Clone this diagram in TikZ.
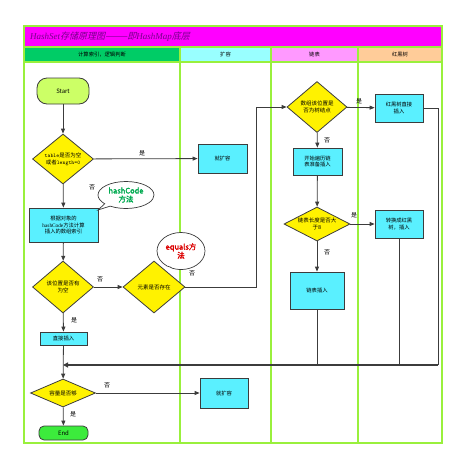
\documentclass[tikz,border=0pt]{standalone}
\usepackage{fontspec}
\setmainfont{Noto Sans CJK SC}
\newfontfamily\lserif{Liberation Serif}
\newfontfamily\titlecjk[FakeSlant=0.25]{Noto Sans CJK SC}
\newfontfamily\cjkbold[FakeBold=2.5]{Noto Sans CJK SC}
\usetikzlibrary{shapes.geometric,shapes.callouts,arrows.meta}
\definecolor{laneGreen}{RGB}{153,240,60}
\definecolor{titleMag}{RGB}{255,0,255}
\definecolor{titleTxt}{RGB}{120,0,140}
\definecolor{hdA}{RGB}{0,204,102}
\definecolor{hdB}{RGB}{153,255,255}
\definecolor{hdC}{RGB}{255,153,255}
\definecolor{hdD}{RGB}{255,204,153}
\definecolor{boxCyan}{RGB}{90,240,255}
\definecolor{edgeGray}{RGB}{60,60,60}
\definecolor{startFill}{RGB}{204,255,102}
\definecolor{endFill}{RGB}{60,235,60}
\definecolor{hcGreen}{RGB}{0,170,80}
\definecolor{eqRed}{RGB}{220,0,0}
\tikzset{
  lane/.style={draw=laneGreen, line width=1.2pt},
  dia/.style={diamond, draw=edgeGray, fill=yellow, line width=0.8pt, inner sep=0pt, align=center, font=\fontsize{5.5}{6.8}\selectfont},
  stepbox/.style={rectangle, draw=edgeGray, fill=boxCyan, line width=0.8pt, inner sep=0pt, align=center, font=\fontsize{5.3}{6.8}\selectfont},
  term/.style={rectangle, rounded corners=7pt, draw=edgeGray, line width=0.8pt, inner sep=0pt, align=center, font=\fontsize{6}{7}\selectfont},
  conn/.style={draw=edgeGray, line width=0.8pt, -{Triangle[length=5pt,width=4pt]}},
  plain/.style={draw=edgeGray, line width=0.8pt},
  lab/.style={font=\fontsize{6}{7}\selectfont, inner sep=0pt},
  hdr/.style={font=\fontsize{5.3}{6}\selectfont, inner sep=0pt},
  bubble/.style={ellipse callout, draw=edgeGray, fill=white, line width=0.7pt, inner sep=0pt, align=center, font=\cjkbold\fontsize{7.5}{8.5}\selectfont}
}
\begin{document}
\begin{tikzpicture}[x=1pt,y=-1pt]
\useasboundingbox (0,0) rectangle (474,466);
% title and header bands
\fill[titleMag] (24,26) rectangle (442,47);
\node[anchor=west, inner sep=0pt, text=titleTxt, font=\fontsize{9}{10}\selectfont] (title) at (30,37) {{\lserif\itshape HashSet}\titlecjk 存储原理图———即{\lserif\itshape HashMap}底层};
\fill[hdA] (24,47) rectangle (180,62);
\fill[hdB] (180,47) rectangle (271,62);
\fill[hdC] (271,47) rectangle (358,62);
\fill[hdD] (358,47) rectangle (442,62);
\node[hdr] (h1) at (102,54.5) {计算索引，逻辑判断};
\node[hdr] (h2) at (225.5,54.5) {扩容};
\node[hdr] (h3) at (314.5,54.5) {链表};
\node[hdr] (h4) at (400,54.5) {红黑树};
% lanes
\draw[lane] (24,26) rectangle (442,443);
\draw[lane] (24,47) -- (442,47);
\draw[lane] (24,62) -- (442,62);
\draw[lane] (180,47) -- (180,443);
\draw[lane] (271,47) -- (271,443);
\draw[lane] (358,47) -- (358,443);
% nodes
\node[term, fill=startFill, minimum width=52pt, minimum height=26pt, rounded corners=10pt] (start) at (63,91) {Start};
\node[dia, aspect=1.2, minimum width=61pt, minimum height=50pt] (d1) at (63,159) {{\ttfamily table}是否为空\\或者{\ttfamily length=0}};
\node[stepbox, minimum width=49pt, minimum height=29pt] (b1) at (222.5,158.5) {就扩容};
\node[stepbox, minimum width=69pt, minimum height=34pt] (b2) at (63.5,225) {根据对象的\\{\lserif hashCode}方法计算\\插入的数组索引};
\node[dia, aspect=1.2, minimum width=61pt, minimum height=52pt] (d2) at (63,287) {该位置是否有\\为空};
\node[dia, aspect=1.2, minimum width=62pt, minimum height=52pt] (d3) at (154,287) {元素是否存在};
\node[dia, aspect=1.2, minimum width=60pt, minimum height=51pt] (d4) at (317,107) {数组该位置是\\否为树结点};
\node[stepbox, minimum width=48pt, minimum height=28pt] (b4) at (399,108) {红黑树直接\\插入};
\node[stepbox, minimum width=49pt, minimum height=27pt] (b5) at (317.5,161.5) {开始遍历链\\表准备插入};
\node[dia, aspect=2, minimum width=66pt, minimum height=34pt] (d5) at (317,224) {链表长度是否大\\于8};
\node[stepbox, minimum width=48pt, minimum height=28pt] (b6) at (399,224) {转换成红黑\\树，插入};
\node[stepbox, minimum width=54pt, minimum height=37pt] (b7) at (317,290.5) {链表插入};
\node[stepbox, minimum width=47pt, minimum height=13pt] (b3) at (63.5,338.5) {直接插入};
\node[dia, aspect=2.3, minimum width=65pt, minimum height=28pt] (d6) at (63,393) {容量是否够};
\node[stepbox, minimum width=48pt, minimum height=30pt] (b8) at (224,393) {就扩容};
\node[term, fill=endFill, minimum width=49pt, minimum height=14pt, rounded corners=5pt] (end) at (63.5,433) {End};
% callouts
\node[bubble, text=hcGreen, minimum width=56pt, minimum height=27pt, callout absolute pointer={(98,210)}] (hc) at (126,195) {hashCode\\方法};
\node[bubble, text=eqRed, minimum width=48pt, minimum height=37pt, callout absolute pointer={(170,267)}] (eq) at (181,251) {equals方\\法};
% helper coordinates
\coordinate (k) at (256,287);
\coordinate (r1) at (438,365);
\coordinate (m) at (63,365);
% connectors
\draw[conn] (start) -- (d1);
\draw[conn] (d1) -- (b1);
\draw[conn] (d1) -- (b2);
\draw[conn] (b2) -- (d2);
\draw[conn] (d2) -- (d3);
\draw[conn] (d3.east) -- (k) |- (d4.west);
\draw[conn] (d4) -- (b4);
\draw[conn] (d4) -- (b5);
\draw[conn] (b5) -- (d5);
\draw[conn] (d5) -- (b6);
\draw[conn] (d5) -- (b7);
\draw[conn] (d2) -- (b3);
\draw[plain] (b4.east) -| (r1);
\draw[plain] (b6.south) -- (b6.south |- r1);
\draw[plain] (b7.south) -- (b7.south |- r1);
\draw[draw=edgeGray, line width=1.8pt, -{Triangle[length=5pt,width=5pt]}] (r1) -- (m);
\draw[conn] (b3) -- (d6);
\draw[conn] (d6) -- (b8);
\draw[conn] (d6) -- (end);
% labels
\node[lab] (l1) at (142,153) {是};
\node[lab] (l2) at (92,187) {否};
\node[lab] (l3) at (100,279) {否};
\node[lab] (l4) at (74,320) {是};
\node[lab] (l5) at (192,273) {否};
\node[lab] (l6) at (359,101) {是};
\node[lab] (l7) at (327,140) {否};
\node[lab] (l8) at (354,215) {是};
\node[lab] (l9) at (327,252) {否};
\node[lab] (l10) at (107,385) {否};
\node[lab] (l11) at (73,414) {是};
\end{tikzpicture}
\end{document}
